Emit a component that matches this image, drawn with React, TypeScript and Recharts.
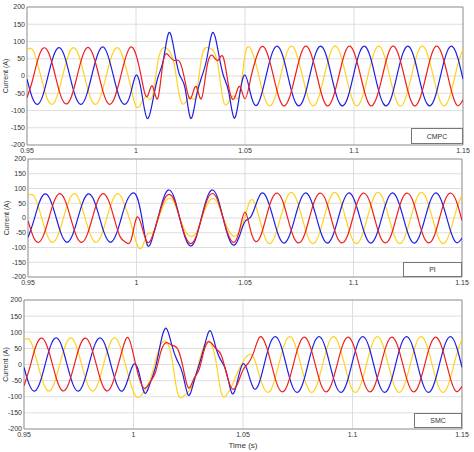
import { LineChart, Line, XAxis, YAxis, CartesianGrid, ReferenceArea } from "recharts";

// time axis (s), 2.5 ms steps
const time = [
  0.95, 0.9525, 0.955, 0.9575, 0.96, 0.9625, 0.965, 0.9675, 0.97, 0.9725, 0.975, 0.9775, 0.98, 0.9825, 0.985, 0.9875,
  0.99, 0.9925, 0.995, 0.9975, 1, 1.0025, 1.005, 1.0075, 1.01, 1.0125, 1.015, 1.0175, 1.02, 1.0225, 1.025, 1.0275,
  1.03, 1.0325, 1.035, 1.0375, 1.04, 1.0425, 1.045, 1.0475, 1.05, 1.0525, 1.055, 1.0575, 1.06, 1.0625, 1.065, 1.0675,
  1.07, 1.0725, 1.075, 1.0775, 1.08, 1.0825, 1.085, 1.0875, 1.09, 1.0925, 1.095, 1.0975, 1.1, 1.1025, 1.105, 1.1075,
  1.11, 1.1125, 1.115, 1.1175, 1.12, 1.1225, 1.125, 1.1275, 1.13, 1.1325, 1.135, 1.1375, 1.14, 1.1425, 1.145, 1.1475,
  1.15,
];

const xTicks = [0.95, 1, 1.05, 1.1, 1.15];
const yTicks = [-200, -150, -100, -50, 0, 50, 100, 150, 200];

// CMPC
const cmpcYellow = [
  75, 77, 33, -29, -75, -77, -33, 29,
  75, 77, 33, -29, -75, -77, -33, 29,
  75, 77, 33, -29, -88, -78, -60, -60,
  40, 82, 75, 35, -60, -78, -60, -58,
  50, 83, 76, 35, -70, -75, -58, -55,
  60, 80, 35, -30, -79, -81, -35, 30,
  79, 81, 35, -30, -79, -81, -35, 30,
  79, 82, 35, -30, -79, -81, -35, 30,
  79, 81, 35, -30, -80, -81, -35, 30,
  79, 81, 35, -30, -79, -81, -35, 30,
  79,
];
const cmpcRed = [
  -63, -13, 48, 81, 66, 13, -48, -80,
  -66, -13, 48, 82, 66, 13, -48, -81,
  -66, -13, 48, 84, 62, -5, -60, -29,
  -65, 42, 60, 45, 42, -15, -66, -30,
  -66, 25, 60, 45, 55, -30, -66, -30,
  -66, -10, 50, 85, 69, 14, -50, -86,
  -69, -14, 50, 86, 69, 14, -50, -86,
  -69, -14, 50, 86, 69, 14, -50, -86,
  -69, -14, 50, 86, 69, 14, -50, -86,
  -69, -14, 50, 86, 69, 14, -50, -86,
  -69,
];
const cmpcBlue = [
  -9, -64, -82, -52, 9, 64, 82, 52,
  -9, -64, -82, -52, 9, 64, 84, 52,
  -9, -64, -82, -52, 2, -45, -122, -78,
  -5, 45, 125, 75, 3, -35, -122, -65,
  -5, 50, 125, 78, 3, -45, -122, -55,
  3, -50, -86, -55, 9, 67, 86, 55,
  -9, -67, -86, -55, 9, 67, 86, 55,
  -9, -67, -86, -55, 9, 67, 86, 55,
  -9, -67, -86, -55, 9, 67, 86, 55,
  -9, -67, -86, -55, 9, 67, 86, 55,
  -9,
];

// PI
const piYellow = [
  75, 77, 33, -29, -75, -77, -33, 29,
  75, 77, 33, -29, -75, -77, -33, 29,
  75, 77, 35, -20, -85, -100, -55, -50,
  -5, 45, 66, 50, 0, -45, -62, -50,
  -3, 45, 66, 48, 0, -42, -62, -45,
  5, 60, 40, -25, -79, -81, -35, 30,
  79, 81, 35, -30, -79, -81, -35, 30,
  79, 81, 35, -30, -79, -81, -35, 30,
  79, 81, 35, -30, -79, -81, -35, 30,
  79, 81, 35, -30, -79, -81, -35, 30,
  79,
];
const piRed = [
  -9, -64, -82, -52, 9, 64, 82, 52,
  -9, -64, -82, -52, 9, 64, 82, 52,
  -9, -64, -82, -75, 0, -30, -82, -58,
  2, 58, 80, 58, -3, -62, -87, -62,
  0, 60, 83, 58, -3, -60, -82, -40,
  20, -40, -80, -55, 9, 66, 84, 55,
  -9, -66, -84, -55, 9, 66, 84, 55,
  -9, -66, -84, -55, 9, 66, 84, 55,
  -9, -66, -84, -55, 9, 66, 84, 55,
  -9, -66, -84, -55, 9, 66, 84, 55,
  -9,
];
const piBlue = [
  -66, -13, 48, 81, 66, 13, -48, -81,
  -66, -13, 48, 81, 66, 13, -48, -81,
  -66, -13, 48, 81, 75, 0, -92, -64,
  3, 68, 95, 66, -3, -68, -95, -66,
  3, 68, 95, 66, -3, -68, -92, -60,
  -12, 2, 45, 84, 68, 13, -50, -84,
  -68, -13, 50, 84, 68, 13, -50, -84,
  -68, -13, 50, 84, 68, 13, -50, -84,
  -68, -13, 50, 84, 68, 13, -50, -84,
  -68, -13, 50, 84, 68, 13, -50, -84,
  -68,
];

// SMC
const smcYellow = [
  75, 77, 33, -29, -75, -77, -33, 29,
  75, 77, 33, -29, -75, -77, -33, 29,
  75, 77, 33, -30, -85, -102, -82, -50,
  10, 62, 70, 20, -85, -100, -85, -55,
  10, 62, 68, 15, -85, -95, -65, -25,
  8, 30, 20, -35, -79, -81, -35, 30,
  79, 81, 35, -30, -79, -81, -35, 30,
  79, 81, 35, -30, -79, -81, -35, 30,
  79, 81, 35, -30, -79, -81, -35, 30,
  79, 81, 35, -30, -79, -81, -35, 30,
  79,
];
const smcRed = [
  -66, -13, 48, 81, 66, 13, -48, -81,
  -66, -13, 48, 81, 66, 13, -48, -81,
  -66, -13, 48, 84, 30, -40, -74, -55,
  -25, 40, 68, 60, 50, -5, -72, -45,
  -15, 50, 70, 50, 30, -30, -75, -60,
  -17, 5, 40, 84, 68, 13, -50, -84,
  -68, -13, 50, 84, 68, 13, -50, -84,
  -68, -13, 50, 84, 68, 13, -50, -84,
  -68, -13, 50, 84, 68, 13, -50, -84,
  -68, -13, 50, 84, 68, 13, -50, -84,
  -68,
];
const smcBlue = [
  -9, -64, -82, -52, 9, 64, 82, 52,
  -9, -64, -82, -52, 9, 64, 82, 52,
  -9, -64, -82, -45, 0, -25, -88, -60,
  -10, 70, 112, 60, 12, -30, -95, -55,
  0, 60, 105, 55, 12, -25, -90, -50,
  2, -30, -75, -55, 9, 67, 86, 55,
  -9, -67, -86, -55, 9, 67, 86, 55,
  -9, -67, -86, -55, 9, 67, 86, 55,
  -9, -67, -86, -55, 9, 67, 86, 55,
  -9, -67, -86, -55, 9, 67, 86, 55,
  -9,
];

const YELLOW = "#FFD21F";
const RED = "#F01E1E";
const BLUE = "#1E1EE6";
const FONT = "'Liberation Sans', Arial, sans-serif";
const tickStyle = { fontSize: 7, fill: "#333", fontFamily: FONT };

type PanelProps = {
  top: number;
  height: number;
  marginTop: number;
  marginLeft: number;
  marginRight: number;
  yAxisWidth: number;
  xAxisHeight: number;
  yellow: number[];
  red: number[];
  blue: number[];
  name: string;
  box: { left: number; top: number; width: number; height: number };
  timeLabel?: boolean;
};

function Panel(p: PanelProps) {
  const data = time.map((t, i) => ({ t, y: p.yellow[i], r: p.red[i], b: p.blue[i] }));
  return (
    <>
      <div style={{ position: "absolute", left: 0, top: p.top }}>
        <LineChart
          width={474}
          height={p.height}
          data={data}
          margin={{ top: p.marginTop, right: p.marginRight, left: p.marginLeft, bottom: 0 }}
        >
          <CartesianGrid stroke="#d6d6d6" strokeWidth={0.8} />
          <XAxis
            dataKey="t"
            type="number"
            domain={[0.95, 1.15]}
            ticks={xTicks}
            tickFormatter={(v) => String(v)}
            tick={tickStyle}
            tickLine={false}
            axisLine={false}
            tickSize={1}
            tickMargin={2}
            height={p.xAxisHeight}
            interval={0}
            allowDataOverflow
            label={
              p.timeLabel
                ? { value: "Time (s)", position: "insideBottom", offset: 5, style: { fontSize: 8, fill: "#333", fontFamily: FONT } }
                : undefined
            }
          />
          <YAxis
            type="number"
            domain={[-200, 200]}
            ticks={yTicks}
            tick={tickStyle}
            tickLine={false}
            axisLine={false}
            tickSize={1}
            tickMargin={1}
            width={p.yAxisWidth}
            interval={0}
            allowDataOverflow
            label={{
              value: "Current (A)",
              angle: -90,
              position: "insideLeft",
              offset: 6,
              style: { fontSize: 7, fill: "#333", fontFamily: FONT, textAnchor: "middle" },
            }}
          />
          <ReferenceArea x1={0.95} x2={1.15} y1={-200} y2={200} fill="none" stroke="#999" strokeWidth={1} />
          <Line type="natural" dataKey="y" stroke={YELLOW} strokeWidth={1.2} dot={false} isAnimationActive={false} />
          <Line type="natural" dataKey="b" stroke={BLUE} strokeWidth={1.2} dot={false} isAnimationActive={false} />
          <Line type="natural" dataKey="r" stroke={RED} strokeWidth={1.2} dot={false} isAnimationActive={false} />
        </LineChart>
      </div>
      <div
        style={{
          position: "absolute",
          left: p.box.left,
          top: p.box.top,
          width: p.box.width,
          height: p.box.height,
          boxSizing: "border-box",
          border: "1px solid #777",
          background: "#fff",
          fontFamily: FONT,
          fontSize: 7,
          color: "#333",
          display: "flex",
          alignItems: "center",
          justifyContent: "center",
        }}
      >
        {p.name}
      </div>
    </>
  );
}

export default function App() {
  return (
    <div style={{ position: "absolute", left: 0, top: 0, width: 474, height: 452, background: "#fff", overflow: "hidden" }}>
      <Panel
        top={0}
        height={159}
        marginTop={7}
        marginLeft={0}
        marginRight={11}
        yAxisWidth={27}
        xAxisHeight={14}
        yellow={cmpcYellow}
        red={cmpcRed}
        blue={cmpcBlue}
        name="CMPC"
        box={{ left: 411, top: 128, width: 52, height: 16 }}
      />
      <Panel
        top={151}
        height={140}
        marginTop={8}
        marginLeft={1}
        marginRight={12}
        yAxisWidth={27}
        xAxisHeight={14}
        yellow={piYellow}
        red={piRed}
        blue={piBlue}
        name="PI"
        box={{ left: 403, top: 262, width: 59, height: 15 }}
      />
      <Panel
        top={292}
        height={161}
        marginTop={8}
        marginLeft={0}
        marginRight={12}
        yAxisWidth={24}
        xAxisHeight={24}
        yellow={smcYellow}
        red={smcRed}
        blue={smcBlue}
        name="SMC"
        box={{ left: 414, top: 413, width: 48, height: 15 }}
        timeLabel
      />
    </div>
  );
}
